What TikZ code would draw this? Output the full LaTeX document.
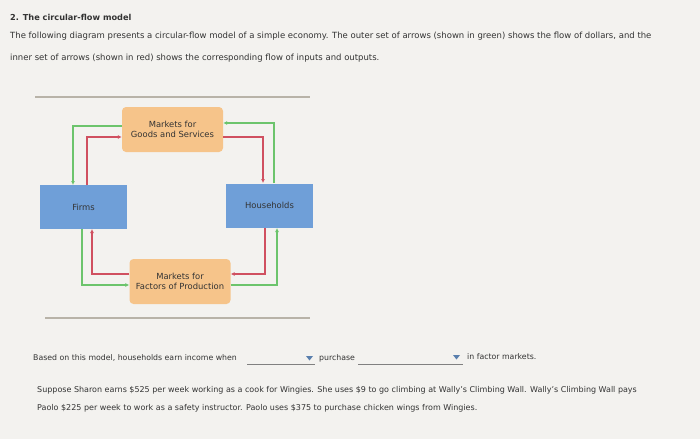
\documentclass[tikz,border=0pt]{standalone}
\usepackage{fontspec}
\setmainfont{DejaVu Sans}
\usetikzlibrary{arrows.meta}
\definecolor{bg}{HTML}{F3F2EF}
\definecolor{boxo}{HTML}{F6C48A}
\definecolor{boxb}{HTML}{6F9FD8}
\definecolor{gr}{HTML}{6CC46C}
\definecolor{rd}{HTML}{D05060}
\definecolor{rule}{HTML}{B8B3A8}
\definecolor{txt}{HTML}{333333}
\tikzset{
 mkt/.style={draw=none,fill=boxo,rounded corners=4pt,minimum width=101pt,minimum height=45pt,align=center,font=\fontsize{8.4}{9.5}\selectfont,text=txt,inner sep=1pt},
 agent/.style={draw=none,fill=boxb,minimum width=87pt,minimum height=44pt,font=\fontsize{8.4}{9.5}\selectfont,text=txt},
 gflow/.style={draw=gr,line width=1.3pt,-{Latex[length=4pt,width=4pt]}},
 rflow/.style={draw=rd,line width=1.3pt,-{Latex[length=4pt,width=4pt]}},
 para/.style={anchor=west,font=\fontsize{8.5}{10}\selectfont,text=txt,inner sep=0pt},
}
\begin{document}
\begin{tikzpicture}[x=1pt,y=-1pt]
\fill[bg] (0,0) rectangle (700,439);
\useasboundingbox (0,0) rectangle (700,439);
\node[para,font=\bfseries\fontsize{8.2}{10}\selectfont] (title) at (10,17) {2. The circular-flow model};
\node[para] (p1) at (10,36) {The following diagram presents a circular-flow model of a simple economy. The outer set of arrows (shown in green) shows the flow of dollars, and the};
\node[para] (p2) at (10,58) {inner set of arrows (shown in red) shows the corresponding flow of inputs and outputs.};
\draw[rule,line width=1.5pt] (35,97) -- (310,97);
\draw[rule,line width=1.5pt] (45,318) -- (310,318);
\node[mkt] (goods) at (172.5,129.5) {Markets for\\Goods and Services};
\node[mkt] (factors) at (180,281.5) {Markets for\\Factors of Production};
\node[agent] (firms) at (83.5,207) {Firms};
\node[agent] (hh) at (269.5,205.5) {Households};
% top
\draw[gflow] (goods.west|-0,126) -- (73,126) -- (73,185);
\draw[rflow] (87,185) -- (87,137) -- (goods.west|-0,137);
\draw[rflow] (goods.east|-0,137) -- (263,137) -- (263,183);
\draw[gflow] (274,183) -- (274,123) -- (goods.east|-0,123);
% bottom
\draw[rflow] (265,228) -- (265,274) -- (factors.east|-0,274);
\draw[gflow] (factors.east|-0,285) -- (277,285) -- (277,228);
\draw[rflow] (factors.west|-0,274) -- (92,274) -- (92,229);
\draw[gflow] (82,229) -- (82,285) -- (factors.west|-0,285);
% question
\node[para,font=\fontsize{7.8}{9}\selectfont] (q) at (33,358) {Based on this model, households earn income when};
\draw[gray,line width=0.5pt] (247,364) -- (315,364);
\fill[boxb!80!black] (306,356) -- (313,356) -- (309.5,360.5) -- cycle;
\node[para,font=\fontsize{7.8}{9}\selectfont] (pu) at (319,358) {purchase};
\draw[gray,line width=0.5pt] (358,364) -- (463,364);
\fill[boxb!80!black] (453,355) -- (460,355) -- (456.5,359.5) -- cycle;
\node[para,font=\fontsize{7.8}{9}\selectfont] (fm) at (467,357) {in factor markets.};
\node[para,font=\fontsize{8}{9}\selectfont] (s1) at (37,390) {Suppose Sharon earns \$525 per week working as a cook for Wingies. She uses \$9 to go climbing at Wally's Climbing Wall. Wally's Climbing Wall pays};
\node[para,font=\fontsize{8}{9}\selectfont] (s2) at (37,408) {Paolo \$225 per week to work as a safety instructor. Paolo uses \$375 to purchase chicken wings from Wingies.};
\end{tikzpicture}
\end{document}
